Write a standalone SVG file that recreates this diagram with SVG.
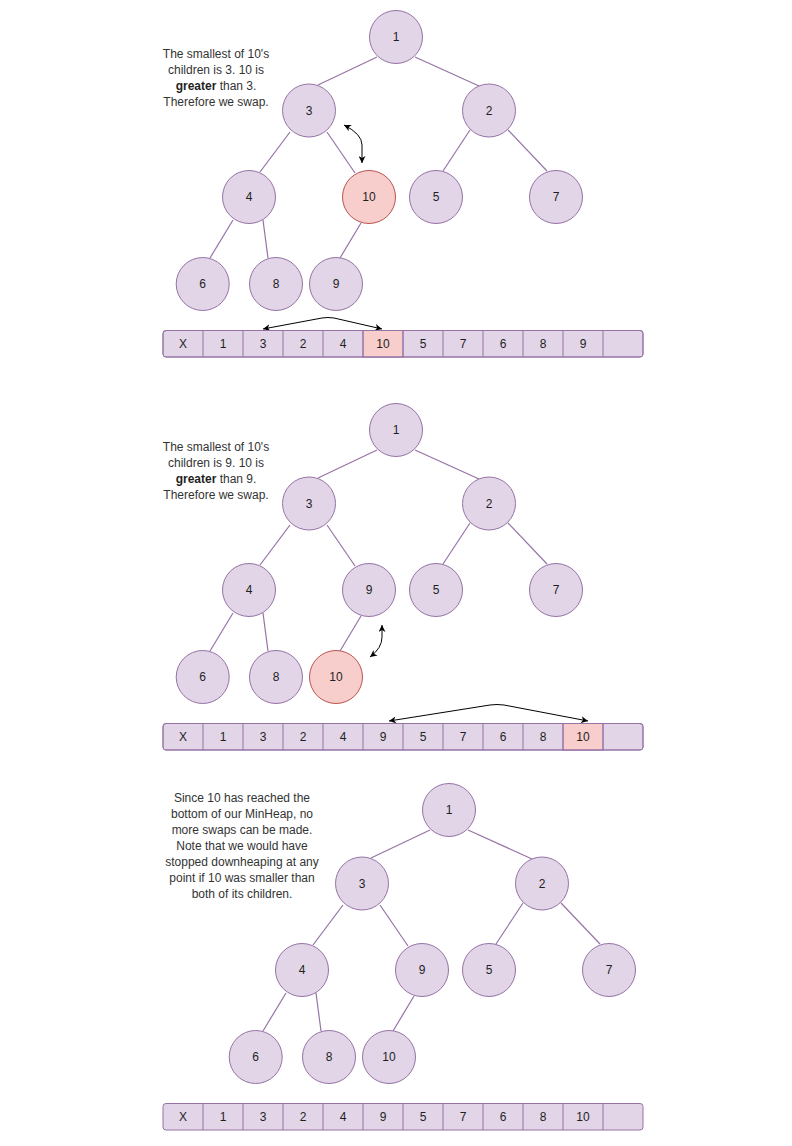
<svg xmlns="http://www.w3.org/2000/svg" width="792" height="1146" viewBox="0 0 792 1146">
<style>
.n circle{fill:#e1d5e7;stroke:#9673a6;stroke-width:1}
.n.r circle{fill:#f8cecc;stroke:#b85450}
.n text,.arr text{font-family:"Liberation Sans",Arial,sans-serif;font-size:12px;fill:#1f1f1f;text-anchor:middle}
.e line{stroke:#9673a6;stroke-width:1.2}
.sw{fill:none;stroke:#000;stroke-width:1;marker-start:url(#ah);marker-end:url(#ah)}
.lbl{font-family:"Liberation Sans",Arial,sans-serif;font-size:12px;fill:#333;text-anchor:middle}
.cell{fill:#e1d5e7;stroke:#9673a6;stroke-width:1}
.cell.r{fill:#f8cecc}
.frame{fill:none;stroke:#9673a6;stroke-width:1}
</style>
<defs>
<marker id="ah" markerUnits="userSpaceOnUse" markerWidth="8" markerHeight="7" refX="7" refY="3.5" orient="auto-start-reverse">
<path d="M0,0 L7,3.5 L0,7 L2,3.5 Z" fill="#000"/>
</marker>
</defs>
<rect width="792" height="1146" fill="#fff"/>

<!-- ===== Diagram 1 ===== -->
<text class="lbl" x="216" y="58">The smallest of 10's</text>
<text class="lbl" x="216" y="74">children is 3. 10 is</text>
<text class="lbl" x="216" y="90"><tspan font-weight="bold" fill="#1f1f1f">greater</tspan> than 3.</text>
<text class="lbl" x="216" y="106">Therefore we swap.</text>

<g id="edges1" class="e">
<line x1="377" y1="57" x2="318" y2="85"/>
<line x1="415" y1="57" x2="479" y2="86"/>
<line x1="290" y1="132" x2="260" y2="172"/>
<line x1="327" y1="132" x2="355" y2="173"/>
<line x1="470" y1="130" x2="443" y2="171"/>
<line x1="508" y1="130" x2="547" y2="171"/>
<line x1="233" y1="220" x2="210" y2="258"/>
<line x1="263" y1="220" x2="268" y2="258"/>
<line x1="361" y1="223" x2="340" y2="258"/>
<path class="sw" d="M344,125 Q362,134 362,145 L362,163"/>
<path class="sw" d="M263,329 L322,318 Q328,317 334,318 L382,329"/>
</g>
<g id="d1n1" class="n"><circle cx="396" cy="37" r="26.5"/><text x="396" y="41.3">1</text></g>
<g id="d1n3" class="n"><circle cx="309" cy="110.5" r="26.5"/><text x="309" y="114.8">3</text></g>
<g id="d1n2" class="n"><circle cx="489" cy="110.5" r="26.5"/><text x="489" y="114.8">2</text></g>
<g id="d1n4" class="n"><circle cx="249" cy="197" r="26.5"/><text x="249" y="201.3">4</text></g>
<g id="d1n10" class="n r"><circle cx="369" cy="197" r="26.5"/><text x="369" y="201.3">10</text></g>
<g id="d1n5" class="n"><circle cx="436" cy="197" r="26.5"/><text x="436" y="201.3">5</text></g>
<g id="d1n7" class="n"><circle cx="556" cy="197" r="26.5"/><text x="556" y="201.3">7</text></g>
<g id="d1n6" class="n"><circle cx="202.7" cy="284" r="26.5"/><text x="202.7" y="288.3">6</text></g>
<g id="d1n8" class="n"><circle cx="276" cy="284" r="26.5"/><text x="276" y="288.3">8</text></g>
<g id="d1n9" class="n"><circle cx="336" cy="284" r="26.5"/><text x="336" y="288.3">9</text></g>

<g id="array1" class="arr">
<rect class="cell" x="163" y="330.5" width="480" height="26.5" rx="3"/>
<rect class="cell r" x="363" y="330.5" width="40" height="26.5" stroke="none"/>
<path class="frame" d="M203,330.5V357 M243,330.5V357 M283,330.5V357 M323,330.5V357 M363,330.5V357 M403,330.5V357 M443,330.5V357 M483,330.5V357 M523,330.5V357 M563,330.5V357 M603,330.5V357"/>
<rect class="frame" x="163" y="330.5" width="480" height="26.5" rx="3"/>
<text x="183" y="348">X</text><text x="223" y="348">1</text><text x="263" y="348">3</text><text x="303" y="348">2</text><text x="343" y="348">4</text><text x="383" y="348">10</text><text x="423" y="348">5</text><text x="463" y="348">7</text><text x="503" y="348">6</text><text x="543" y="348">8</text><text x="583" y="348">9</text>
</g>

<!-- ===== Diagram 2 ===== -->
<text class="lbl" x="216" y="451">The smallest of 10's</text>
<text class="lbl" x="216" y="467">children is 9. 10 is</text>
<text class="lbl" x="216" y="483"><tspan font-weight="bold" fill="#1f1f1f">greater</tspan> than 9.</text>
<text class="lbl" x="216" y="499">Therefore we swap.</text>

<g id="edges2" class="e">
<line x1="377" y1="450" x2="318" y2="478"/>
<line x1="415" y1="450" x2="479" y2="479"/>
<line x1="290" y1="525" x2="260" y2="565"/>
<line x1="327" y1="525" x2="355" y2="566"/>
<line x1="470" y1="523" x2="443" y2="564"/>
<line x1="508" y1="523" x2="547" y2="564"/>
<line x1="233" y1="613" x2="210" y2="651"/>
<line x1="263" y1="613" x2="268" y2="651"/>
<line x1="361" y1="616" x2="340" y2="651"/>
<path class="sw" d="M382,625 L382,637 Q382,648 370,657"/>
<path class="sw" d="M389,721 L490,705 Q497,704 504,705 L588,721"/>
</g>
<g id="d2n1" class="n"><circle cx="396" cy="430" r="26.5"/><text x="396" y="434.3">1</text></g>
<g id="d2n3" class="n"><circle cx="309" cy="503.5" r="26.5"/><text x="309" y="507.8">3</text></g>
<g id="d2n2" class="n"><circle cx="489" cy="503.5" r="26.5"/><text x="489" y="507.8">2</text></g>
<g id="d2n4" class="n"><circle cx="249" cy="590" r="26.5"/><text x="249" y="594.3">4</text></g>
<g id="d2n9" class="n"><circle cx="369" cy="590" r="26.5"/><text x="369" y="594.3">9</text></g>
<g id="d2n5" class="n"><circle cx="436" cy="590" r="26.5"/><text x="436" y="594.3">5</text></g>
<g id="d2n7" class="n"><circle cx="556" cy="590" r="26.5"/><text x="556" y="594.3">7</text></g>
<g id="d2n6" class="n"><circle cx="202.7" cy="677" r="26.5"/><text x="202.7" y="681.3">6</text></g>
<g id="d2n8" class="n"><circle cx="276" cy="677" r="26.5"/><text x="276" y="681.3">8</text></g>
<g id="d2n10" class="n r"><circle cx="336" cy="677" r="26.5"/><text x="336" y="681.3">10</text></g>

<g id="array2" class="arr">
<rect class="cell" x="163" y="723.5" width="480" height="26.5" rx="3"/>
<rect class="cell r" x="563" y="723.5" width="40" height="26.5" stroke="none"/>
<path class="frame" d="M203,723.5V750 M243,723.5V750 M283,723.5V750 M323,723.5V750 M363,723.5V750 M403,723.5V750 M443,723.5V750 M483,723.5V750 M523,723.5V750 M563,723.5V750 M603,723.5V750"/>
<rect class="frame" x="163" y="723.5" width="480" height="26.5" rx="3"/>
<text x="183" y="741">X</text><text x="223" y="741">1</text><text x="263" y="741">3</text><text x="303" y="741">2</text><text x="343" y="741">4</text><text x="383" y="741">9</text><text x="423" y="741">5</text><text x="463" y="741">7</text><text x="503" y="741">6</text><text x="543" y="741">8</text><text x="583" y="741">10</text>
</g>

<!-- ===== Diagram 3 ===== -->
<text class="lbl" x="242" y="801.5">Since 10 has reached the</text>
<text class="lbl" x="242" y="817.5">bottom of our MinHeap, no</text>
<text class="lbl" x="242" y="833.5">more swaps can be made.</text>
<text class="lbl" x="242" y="849.5">Note that we would have</text>
<text class="lbl" x="242" y="865.5">stopped downheaping at any</text>
<text class="lbl" x="242" y="881.5">point if 10 was smaller than</text>
<text class="lbl" x="242" y="897.5">both of its children.</text>

<g id="edges3" class="e">
<line x1="430" y1="830" x2="371" y2="858"/>
<line x1="468" y1="830" x2="532" y2="859"/>
<line x1="343" y1="905" x2="313" y2="945"/>
<line x1="380" y1="905" x2="408" y2="946"/>
<line x1="523" y1="903" x2="496" y2="944"/>
<line x1="561" y1="903" x2="600" y2="944"/>
<line x1="286" y1="993" x2="263" y2="1031"/>
<line x1="316" y1="993" x2="321" y2="1031"/>
<line x1="414" y1="996" x2="393" y2="1031"/>
</g>
<g id="d3n1" class="n"><circle cx="449" cy="810" r="26.5"/><text x="449" y="814.3">1</text></g>
<g id="d3n3" class="n"><circle cx="362" cy="883.5" r="26.5"/><text x="362" y="887.8">3</text></g>
<g id="d3n2" class="n"><circle cx="542" cy="883.5" r="26.5"/><text x="542" y="887.8">2</text></g>
<g id="d3n4" class="n"><circle cx="302" cy="970" r="26.5"/><text x="302" y="974.3">4</text></g>
<g id="d3n9" class="n"><circle cx="422" cy="970" r="26.5"/><text x="422" y="974.3">9</text></g>
<g id="d3n5" class="n"><circle cx="489" cy="970" r="26.5"/><text x="489" y="974.3">5</text></g>
<g id="d3n7" class="n"><circle cx="609" cy="970" r="26.5"/><text x="609" y="974.3">7</text></g>
<g id="d3n6" class="n"><circle cx="255.7" cy="1057" r="26.5"/><text x="255.7" y="1061.3">6</text></g>
<g id="d3n8" class="n"><circle cx="329" cy="1057" r="26.5"/><text x="329" y="1061.3">8</text></g>
<g id="d3n10" class="n"><circle cx="389" cy="1057" r="26.5"/><text x="389" y="1061.3">10</text></g>

<g id="array3" class="arr">
<rect class="cell" x="163" y="1103.5" width="480" height="26.5" rx="3"/>
<path class="frame" d="M203,1103.5V1130 M243,1103.5V1130 M283,1103.5V1130 M323,1103.5V1130 M363,1103.5V1130 M403,1103.5V1130 M443,1103.5V1130 M483,1103.5V1130 M523,1103.5V1130 M563,1103.5V1130 M603,1103.5V1130"/>
<text x="183" y="1121">X</text><text x="223" y="1121">1</text><text x="263" y="1121">3</text><text x="303" y="1121">2</text><text x="343" y="1121">4</text><text x="383" y="1121">9</text><text x="423" y="1121">5</text><text x="463" y="1121">7</text><text x="503" y="1121">6</text><text x="543" y="1121">8</text><text x="583" y="1121">10</text>
</g>
</svg>
